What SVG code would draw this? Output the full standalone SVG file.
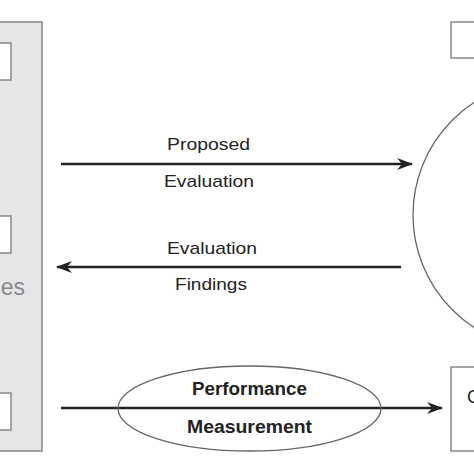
<svg xmlns="http://www.w3.org/2000/svg" width="474" height="474" viewBox="0 0 474 474">
<defs>
<marker id="ah" viewBox="0 0 16 12" refX="15" refY="6" markerWidth="16" markerHeight="12" markerUnits="userSpaceOnUse" orient="auto">
<path d="M0,0 L16,6 L0,12 L5,6 Z" fill="#222"/>
</marker>
</defs>
<style>
.box{fill:#fff;stroke:#888;stroke-width:1.5}
.line{stroke:#222;stroke-width:2.5;fill:none;marker-end:url(#ah)}
.t{font-family:"Liberation Sans",Arial,sans-serif;font-size:17px;fill:#222;text-anchor:middle}
.b{font-family:"Liberation Sans",Arial,sans-serif;font-size:18px;font-weight:bold;fill:#222;text-anchor:middle}
</style>
<rect width="474" height="474" fill="#fff"/>
<g id="left-panel">
<rect x="-2" y="22" width="44" height="429" fill="#e6e6e8" stroke="#888" stroke-width="1.5"/>
<rect class="box" x="-2" y="43" width="13" height="37"/>
<rect class="box" x="-2" y="216" width="13" height="37"/>
<rect class="box" x="-2" y="393" width="13" height="37"/>
<text x="25" y="295" font-family="Liberation Sans, Arial, sans-serif" font-size="23" fill="#888" text-anchor="end">es</text>
</g>
<g id="top-right-box">
<rect class="box" x="451" y="22" width="30" height="36"/>
</g>
<g id="circle-node">
<circle cx="547" cy="215" r="134" fill="#fff" stroke="#666" stroke-width="1.3"/>
</g>
<g id="bottom-right-box">
<rect class="box" x="451" y="367" width="30" height="84"/>
<text x="467" y="403" font-family="Liberation Sans, Arial, sans-serif" font-size="18" fill="#222">C</text>
</g>
<g id="connectors">
<line class="line" x1="61" y1="164" x2="412" y2="164"/>
<line class="line" x1="401" y1="267" x2="57" y2="267"/>
<line class="line" x1="61" y1="408" x2="442" y2="408"/>
</g>
<g id="label-proposed">
<text class="t" x="208.5" y="150" textLength="83" lengthAdjust="spacingAndGlyphs">Proposed</text>
<text class="t" x="209" y="187" textLength="90" lengthAdjust="spacingAndGlyphs">Evaluation</text>
</g>
<g id="label-findings">
<text class="t" x="212" y="254" textLength="90" lengthAdjust="spacingAndGlyphs">Evaluation</text>
<text class="t" x="211" y="290" textLength="72" lengthAdjust="spacingAndGlyphs">Findings</text>
</g>
<g id="performance-measurement">
<ellipse cx="249.5" cy="408.5" rx="131.5" ry="42.5" fill="none" stroke="#666" stroke-width="1.3"/>
<text class="b" x="249.5" y="395" textLength="115" lengthAdjust="spacingAndGlyphs">Performance</text>
<text class="b" x="249.5" y="433" textLength="125" lengthAdjust="spacingAndGlyphs">Measurement</text>
</g>
</svg>
